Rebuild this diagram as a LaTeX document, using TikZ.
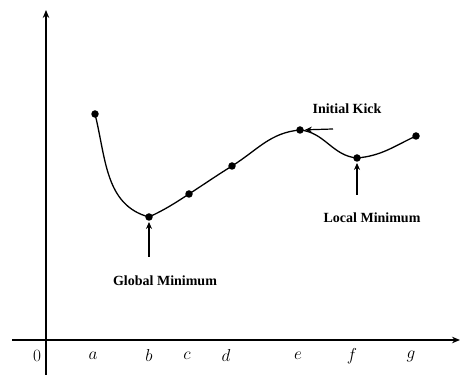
\documentclass[tikz,border=0pt]{standalone}
\usepackage{fontspec}
\newfontfamily\tnr{Liberation Serif}
\usetikzlibrary{arrows.meta}
\begin{document}
\begin{tikzpicture}[x=1pt,y=1pt,
  dot/.style={circle,fill=black,inner sep=0pt,minimum size=7.5pt},
  lbl/.style={font=\tnr\bfseries\fontsize{14}{16}\selectfont},
  axlbl/.style={font=\fontsize{18}{20}\selectfont},
  ptr/.style={-{Stealth[length=7pt,width=6pt]},line width=1.2pt},
  axis/.style={-{Stealth[length=8pt,width=6.5pt]},line width=1.3pt}]
\useasboundingbox (0,0) rectangle (474,387);
% axes
\coordinate (yb) at (46,12);
\coordinate (yt) at (46,377);
\coordinate (xl) at (12,47);
\coordinate (xr) at (460,47);
\draw[axis] (yb) -- (yt);
\draw[axis] (xl) -- (xr);
% axis labels
\node[axlbl] (l0) at (37,31) {$0$};
\node[axlbl] (la) at (93,31) {$a$};
\node[axlbl] (lb) at (149,31) {$b$};
\node[axlbl] (lc) at (187,31) {$c$};
\node[axlbl] (ld) at (226,31) {$d$};
\node[axlbl] (le) at (298,31) {$e$};
\node[axlbl] (lf) at (352,31) {$f$};
\node[axlbl] (lg) at (411,31) {$g$};
% points
\node[dot] (a) at (95,273) {};
\node[dot] (b) at (149,170) {};
\node[dot] (c) at (189,193) {};
\node[dot] (d) at (232,221) {};
\node[dot] (e) at (300,257) {};
\node[dot] (f) at (357,229) {};
\node[dot] (g) at (416,251) {};
% curve
\draw[line width=1.3pt] (a.center) to[out=-76,in=165] (b.center)
  to[out=25,in=213] (c.center)
  to[out=33,in=212] (d.center)
  to[out=32,in=185] (e.center)
  to[out=-5,in=175] (f.center)
  to[out=5,in=205] (g.center);
% labels
\node[lbl] (ik) at (347,278) {Initial Kick};
\node[lbl] (lm) at (372,169) {Local Minimum};
\node[lbl] (gm) at (165,106) {Global Minimum};
\coordinate (ikt) at (333,258);
\coordinate (lmt) at (357,192);
\coordinate (gmt) at (149,130);
\draw[ptr,shorten >=1pt] (ikt) -- (e);
\draw[ptr,shorten >=1pt] (lmt) -- (f);
\draw[ptr,shorten >=1pt] (gmt) -- (b);
\end{tikzpicture}
\end{document}
